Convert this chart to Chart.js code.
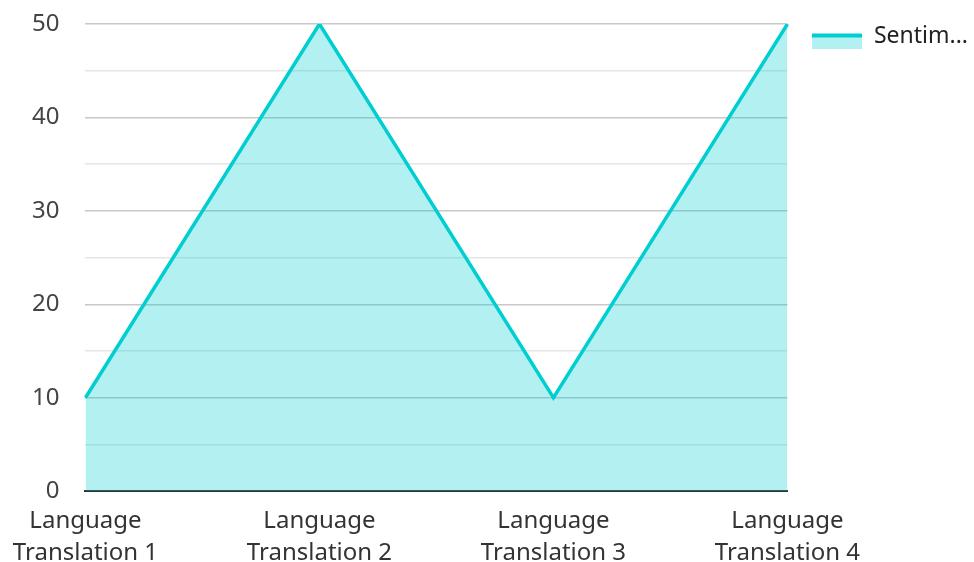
<!DOCTYPE html>
<html>
<head>
<meta charset="utf-8">
<script src="https://cdn.jsdelivr.net/npm/chart.js@4"></script>
<style>
  html, body { margin: 0; padding: 0; background: #fff; }
  #wrap { width: 974px; height: 562px; }
</style>
</head>
<body>
<div id="wrap"><canvas id="chart"></canvas></div>
<script>
const categories = [
    ['Language', 'Translation 1'],
    ['Language', 'Translation 2'],
    ['Language', 'Translation 3'],
    ['Language', 'Translation 4']
];
const seriesName = 'Sentiment';
const sentimentValues = [10, 50, 10, 50];
const yTicks = [0, 10, 20, 30, 40, 50];

const lineColor = '#00ced1';
const fillColor = 'rgba(0, 206, 209, 0.3)';

// legend swatch: thick line on top of a light block, sitting a bit low
function makeSwatch() {
    const c = document.createElement('canvas');
    c.width = 50;
    c.height = 24;
    const g = c.getContext('2d');
    g.fillStyle = fillColor;
    g.fillRect(0, 9, 50, 15);
    g.fillStyle = lineColor;
    g.fillRect(0, 9, 50, 4);
    return c;
}
const swatch = makeSwatch();

Chart.defaults.font.family = '"Noto Sans", "Open Sans", sans-serif';
Chart.defaults.color = '#333';

new Chart(document.getElementById('chart'), {
    type: 'line',
    data: {
        labels: categories,
        datasets: [{
            label: seriesName,
            data: sentimentValues,
            borderColor: lineColor,
            backgroundColor: fillColor,
            borderWidth: 3.5,
            fill: 'origin',
            tension: 0,
            pointRadius: 0,
            pointHoverRadius: 0
        }]
    },
    options: {
        responsive: true,
        maintainAspectRatio: false,
        animation: false,
        layout: {
            padding: { top: 0, right: -4, left: 6, bottom: -13 }
        },
        plugins: {
            tooltip: { enabled: false },
            legend: {
                position: 'right',
                align: 'start',
                labels: {
                    usePointStyle: true,
                    pointStyleWidth: 50,
                    boxWidth: 50,
                    boxHeight: 16,
                    padding: 25,
                    font: { size: 23 },
                    color: '#222',
                    generateLabels(chart) {
                        const items = Chart.defaults.plugins.legend.labels.generateLabels(chart);
                        items.forEach(it => {
                            it.pointStyle = swatch;
                            it.text = it.text.length > 6 ? it.text.slice(0, 6) + '...' : it.text;
                        });
                        return items;
                    }
                }
            }
        },
        scales: {
            x: {
                offset: false,
                grid: { display: false },
                border: { color: '#333', width: 2 },
                ticks: {
                    maxRotation: 0,
                    autoSkip: false,
                    padding: 6,
                    color: '#333',
                    font: { size: 24, lineHeight: 1.33 }
                }
            },
            y: {
                min: 0,
                max: 50,
                border: { display: false },
                grid: {
                    drawTicks: false,
                    color: ctx => (yTicks.includes(ctx.tick.value) ? '#c8c8c8' : '#e6e6e6'),
                    lineWidth: 1.5
                },
                ticks: {
                    stepSize: 5,
                    padding: 26,
                    color: '#444',
                    font: { size: 24 },
                    callback: v => (yTicks.includes(v) ? v : '')
                },
                // tick padding would push the top down too far
                afterFit(scale) {
                    scale.paddingTop = 24;
                }
            }
        }
    }
});
</script>
</body>
</html>
